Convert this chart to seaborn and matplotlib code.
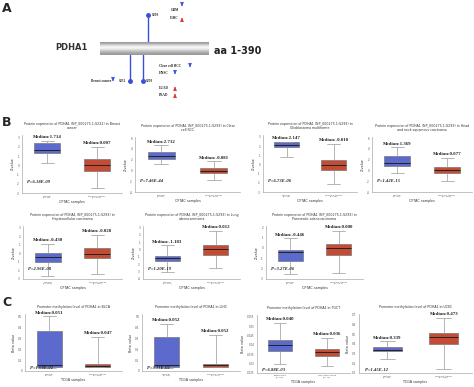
import numpy as np
import pandas as pd
import matplotlib
matplotlib.use("Agg")
import matplotlib.pyplot as plt
import seaborn as sns

sns.set_style("white")
plt.rcParams['font.family'] = ['DejaVu Sans']

W, H = 474, 387
BLUE = "#4a5be0"
RED = "#dc3b1c"

# ---------------- data ----------------
groups_b = ["Normal", "Primary tumor"]
titles = [
    "Protein expression of PDHA1 (NP_000275.1:S232) in Breast\ncancer",
    "Protein expression of PDHA1 (NP_000275.1:S293) in Clear\ncell RCC",
    "Protein expression of PDHA1 (NP_000275.1:S293) in\nGlioblastoma multiforme",
    "Protein expression of PDHA1 (NP_000275.1:S293) in Head\nand neck squamous carcinoma",
    "Protein expression of PDHA1 (NP_000275.1:S293) in\nHepatocellular carcinoma",
    "Protein expression of PDHA1 (NP_000275.1:S293) in Lung\nadenocarcinoma",
    "Protein expression of PDHA1 (NP_000275.1:S293) in\nPancreatic adenocarcinoma",
    "Promoter methylation level of PDHA1 in BLCA",
    "Promoter methylation level of PDHA1 in LIHC",
    "Promoter methylation level of PDHA1 in TGCT",
    "Promoter methylation level of PDHA1 in UCEC",
]
# five-number summaries: [whisker low, q1, median, q3, whisker high]
normal_stats = [
    [0.31, 1.31, 1.714, 2.41, 2.66],
    [1.25, 2.15, 2.712, 3.46, 4.66],
    [0.86, 1.85, 2.147, 2.40, 2.48],
    [-0.42, 0.78, 1.369, 2.69, 4.30],
    [-2.70, -1.02, -0.430, 0.08, 1.10],
    [-3.00, -1.60, -1.183, -0.83, 0.57],
    [-2.50, -1.23, -0.446, -0.19, 0.92],
    [0.030, 0.040, 0.051, 0.369, 0.50],
    [0.030, 0.040, 0.052, 0.310, 0.43],
    [0.0300, 0.0370, 0.0400, 0.0428, 0.0517],
    [0.243, 0.323, 0.339, 0.373, 0.427],
]
tumor_stats = [
    [-2.45, -0.59, 0.007, 0.69, 2.00],
    [-1.85, -0.54, -0.081, 0.36, 1.67],
    [-2.14, -0.62, -0.010, 0.45, 2.24],
    [-1.91, -0.42, 0.077, 0.72, 2.39],
    [-2.45, -0.57, -0.028, 0.68, 2.20],
    [-2.57, -0.74, 0.012, 0.57, 2.50],
    [-2.43, -0.73, 0.000, 0.41, 1.65],
    [0.035, 0.040, 0.047, 0.060, 0.31],
    [0.035, 0.040, 0.052, 0.063, 0.33],
    [0.0288, 0.0342, 0.0360, 0.0378, 0.0438],
    [0.140, 0.400, 0.473, 0.513, 0.667],
]
pvals = ["P=6.18E-09", "P=7.46E-44", "P=6.73E-06", "P=1.42E-15",
         "P=2.96E-08", "P=1.20E-19", "P=3.27E-06",
         "P=1.64E-02", "P=3.11E-02", "P=6.88E-03", "P=1.45E-12"]
xticklabels = [
    ["Normal\n(n=18)", "Primary tumor\n(n=125)"],
    ["Normal\n(n=84)", "Primary tumor\n(n=110)"],
    ["Normal\n(n=10)", "Primary tumor\n(n=99)"],
    ["Normal\n(n=71)", "Primary tumor\n(n=108)"],
    ["Normal\n(n=165)", "Primary tumor\n(n=165)"],
    ["Normal\n(n=111)", "Primary tumor\n(n=111)"],
    ["Normal\n(n=74)", "Primary tumor\n(n=137)"],
    ["Normal\n(n=21)", "Primary tumor\n(n=418)"],
    ["Normal\n(n=50)", "Primary tumor\n(n=377)"],
    ["Seminoma\n(n=63)", "Non seminoma\n(n=71)"],
    ["Normal\n(n=46)", "Primary tumor\n(n=438)"],
]
yticks = [
    [-3, -2, -1, 0, 1, 2, 3],
    [-4, -2, 0, 2, 4, 6],
    [-3, -2, -1, 0, 1, 2, 3],
    [-4, -2, 0, 2, 4, 6],
    [-3, -2, -1, 0, 1, 2, 3],
    [-4, -3, -2, -1, 0, 1, 2, 3],
    [-3, -2, -1, 0, 1, 2],
    [0.0, 0.1, 0.2, 0.3, 0.4, 0.5],
    [0.0, 0.1, 0.2, 0.3, 0.4, 0.5],
    [0.025, 0.03, 0.035, 0.04, 0.045, 0.05, 0.055],
    [0.1, 0.2, 0.3, 0.4, 0.5, 0.6, 0.7],
]
ylabels = ["Z-value"] * 7 + ["Beta value"] * 4
xlabels = ["CPTAC samples"] * 7 + ["TCGA samples"] * 4

# panel A
site_up = ["S293"]
site_down = ["S232", "S293"]
cancers_up = ["GBM", "LIHC"]
cancers_up_dir = ["down", "up"]
cancers_right = ["Clear cell RCC", "HNSC", "LUAD", "PAAD"]
cancers_right_dir = ["down", "down", "up", "up"]
cancer_left = ["Breast cancer"]
cancer_left_dir = ["down"]

# ---------------- layout ----------------
fig = plt.figure(figsize=(W / 100, H / 100), dpi=100)
fig.patch.set_facecolor("white")


def px(x0, y0, x1, y1):
    return [x0 / W, 1 - y1 / H, (x1 - x0) / W, (y1 - y0) / H]


rects = [
    (22, 135, 122, 193), (135, 137, 240, 192), (263, 135, 357, 192), (372, 137, 472, 192),
    (23, 226, 122, 279), (143, 226, 240, 279), (266, 226, 363, 279),
    (25, 314, 122, 371), (142, 314, 240, 371), (257, 315, 350, 373), (359, 314, 472, 373),
]
ylims = [
    (-3, 3.3), (-4, 6.2), (-3, 3.2), (-4, 6.2),
    (-3, 3.2), (-4, 3.2), (-3, 2.1),
    (0, 0.52), (0, 0.52), (0.025, 0.056), (0.1, 0.71),
]

serif = ["Liberation Serif", "DejaVu Serif"]

for i, r in enumerate(rects):
    ax = fig.add_axes(px(*r))
    vals = normal_stats[i] + tumor_stats[i]
    grp = [groups_b[0]] * 5 + [groups_b[1]] * 5
    df = pd.DataFrame({"group": grp, "value": vals})
    sns.boxplot(data=df, x="group", y="value", hue="group", order=groups_b,
                palette=[BLUE, RED], whis=(0, 100), width=0.52, linewidth=0.5,
                legend=False, ax=ax,
                boxprops=dict(edgecolor="#777777"),
                whiskerprops=dict(color="#999999", lw=0.5),
                capprops=dict(color="#999999", lw=0.5),
                medianprops=dict(color="#222222", lw=0.7))
    ax.set_xlim(-0.5, 1.5)
    ax.set_ylim(*ylims[i])
    ax.set_yticks(yticks[i])
    ax.set_yticklabels([f"{t:g}" for t in yticks[i]], fontsize=2.0, color="#555555")
    ax.set_xticks([0, 1])
    ax.set_xticklabels(xticklabels[i], fontsize=1.7, color="#555555", linespacing=0.9)
    ax.tick_params(length=1, width=0.3, pad=0.8, colors="#888888")
    for lab in ax.get_xticklabels() + ax.get_yticklabels():
        lab.set_color("#555555")
    for s in ["top", "right"]:
        ax.spines[s].set_visible(False)
    for s in ["left", "bottom"]:
        ax.spines[s].set_color("#aaaaaa")
        ax.spines[s].set_linewidth(0.5)
    ax.set_ylabel(ylabels[i], fontsize=2.4, labelpad=1.5, color="#333333")
    ax.set_xlabel(xlabels[i], fontsize=2.4, labelpad=1.2, color="#333333")
    ax.set_title(titles[i], fontsize=2.3, pad=4, color="#333333", linespacing=1.1)
    for pos, st in enumerate([normal_stats[i], tumor_stats[i]]):
        ax.annotate(f"Median:{st[2]:.3f}", (pos, st[4]), xytext=(0, 1.2),
                    textcoords="offset points", ha="center", va="bottom",
                    fontsize=3.5, fontweight="bold", family=serif, color="#222222")
    py = 0.16 if i < 7 else 0.02
    ax.text(0.05, py, pvals[i], transform=ax.transAxes, fontsize=3.3,
            fontweight="bold", family=serif, style="italic", color="#222222",
            ha="left", va="bottom")

# ---------------- panel A ----------------
ax0 = fig.add_axes([0, 1 - 105 / H, 1, 105 / H])
ax0.set_xlim(0, W)
ax0.set_ylim(105, 0)
ax0.axis("off")

grad = np.array([0.6, 0.72, 0.85, 0.95, 0.97, 0.9, 0.8, 0.72, 0.65, 0.6])[:, None]
ax0.imshow(grad, cmap="gray", vmin=0, vmax=1, extent=(100, 209, 55, 42),
           aspect="auto", interpolation="bicubic", zorder=2)
ax0.text(88, 47, "PDHA1", ha="right", va="center", fontsize=6,
         fontweight="bold", color="#333333")
ax0.text(214, 51, "aa 1-390", ha="left", va="center", fontsize=7,
         fontweight="bold", color="#222222")

LC = "#3a4fd8"
# up lollipop
ax0.plot([148, 148], [42, 15], color=LC, lw=1.0, zorder=1)
ax0.plot(148, 15, "o", color=LC, ms=2.5)
ax0.text(152, 15, site_up[0], fontsize=2.5, fontweight="bold", family=serif,
         va="center", ha="left")
# down lollipops
for xs, name, ha, dx in [(130, site_down[0], "right", -4), (143, site_down[1], "left", 3)]:
    ax0.plot([xs, xs], [55, 81], color=LC, lw=1.0, zorder=1)
    ax0.plot(xs, 81, "o", color=LC, ms=2.5)
    ax0.text(xs + dx, 81, name, fontsize=2.5, fontweight="bold", family=serif,
             va="center", ha=ha)


def arrow(x, y, d, color):
    if d == "down":
        ax0.annotate("", xy=(x, y + 4.5), xytext=(x, y - 4.5),
                     arrowprops=dict(arrowstyle="-|>,head_length=0.25,head_width=0.1",
                                     color=color, lw=0.5))
    else:
        ax0.annotate("", xy=(x, y - 4.5), xytext=(x, y + 4.5),
                     arrowprops=dict(arrowstyle="-|>,head_length=0.25,head_width=0.1",
                                     color=color, lw=0.5))


def dcol(d):
    return "#3a4fd8" if d == "down" else "#e03030"


for name, d, y in zip(cancers_up, cancers_up_dir, [10, 18]):
    ax0.text(179, y, name, fontsize=2.5, fontweight="bold", family=serif,
             ha="right", va="center")
    arrow(182, y - 5 if d == "down" else y + 1, d, dcol(d))

for name, d, y, ax_ in zip(cancers_right, cancers_right_dir, [66, 73, 88, 95], [190, 175, 175, 175]):
    ax0.text(159, y, name, fontsize=2.5, fontweight="bold", family=serif,
             ha="left", va="center")
    arrow(ax_, y, d, dcol(d))

ax0.text(111, 81, cancer_left[0], fontsize=2.5, fontweight="bold", family=serif,
         ha="right", va="center")
arrow(113, 80, cancer_left_dir[0], dcol(cancer_left_dir[0]))

# panel letters
for letter, y in [("A", 8), ("B", 122), ("C", 302)]:
    fig.text(2 / W, 1 - y / H, letter, fontsize=9, fontweight="bold",
             ha="left", va="center")

fig.savefig("out.png", dpi=100, facecolor="white")
